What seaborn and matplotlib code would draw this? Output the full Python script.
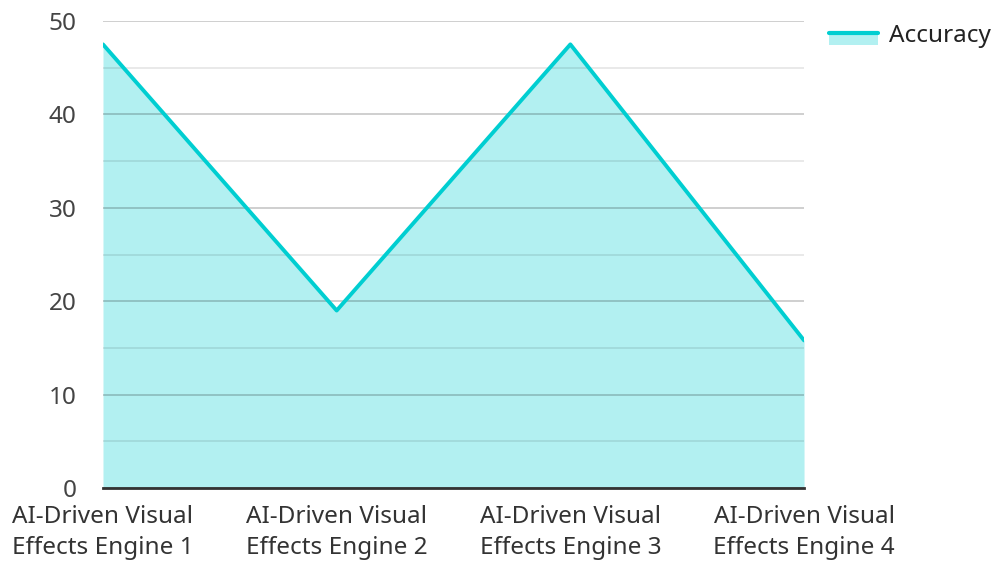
import matplotlib
matplotlib.use("Agg")
import matplotlib.pyplot as plt
import seaborn as sns
import pandas as pd
from matplotlib.legend_handler import HandlerBase
from matplotlib.patches import Rectangle
from matplotlib.lines import Line2D
from matplotlib.ticker import MultipleLocator

engines = ["AI-Driven Visual\nEffects Engine 1", "AI-Driven Visual\nEffects Engine 2",
           "AI-Driven Visual\nEffects Engine 3", "AI-Driven Visual\nEffects Engine 4"]
accuracy = [47.5, 19, 47.5, 15.8]

line_col = "#00CED1"

df = pd.DataFrame({"Engine": engines, "Accuracy": accuracy})

sns.set_style("white")
plt.rcParams["font.family"] = ["Noto Sans", "DejaVu Sans"]

fig = plt.figure(figsize=(9.94, 5.62), dpi=100)
ax = fig.add_axes([0.1036, 0.1317, 0.7053, 0.8309])

pos = list(range(len(engines)))
ax.fill_between(pos, accuracy, 0, color=line_col, alpha=0.3, linewidth=0, zorder=1)
sns.lineplot(data=df, x="Engine", y="Accuracy", color=line_col, linewidth=2.8, ax=ax,
             sort=False, zorder=3)

ax.set_xlim(0, 3)
ax.set_ylim(0, 50)
ax.yaxis.set_major_locator(MultipleLocator(10))
ax.yaxis.set_minor_locator(MultipleLocator(5))
ax.grid(which="major", axis="y", color="#000000", alpha=0.22, linewidth=1.2, zorder=2)
ax.grid(which="minor", axis="y", color="#000000", alpha=0.1, linewidth=1.2, zorder=2)
ax.set_axisbelow(False)
ax.grid(False, axis="x")

for s in ["left", "right", "top"]:
    ax.spines[s].set_visible(False)
ax.spines["bottom"].set_color("#333333")
ax.spines["bottom"].set_linewidth(2)
ax.spines["bottom"].set_zorder(4)

ax.set_xlabel("")
ax.set_ylabel("")
ax.tick_params(axis="y", which="both", length=0, pad=19, labelsize=17.5, labelcolor="#444444")
ax.tick_params(axis="x", length=0, pad=12, labelsize=17.5, labelcolor="#333333")
for lab in ax.get_xticklabels():
    lab.set_linespacing(1.4)


class AreaHandler(HandlerBase):
    def create_artists(self, legend, orig, xd, yd, w, h, fontsize, trans):
        bottom = yd - 2.2
        top = bottom + 8.6
        r = Rectangle((xd, bottom), w, top - bottom, facecolor=line_col, alpha=0.3,
                      edgecolor="none", transform=trans)
        l = Line2D([xd, xd + w], [top, top], color=line_col,
                   linewidth=3, transform=trans)
        return [r, l]


proxy = Rectangle((0, 0), 1, 1)
fig.legend([proxy], ["Accuracy"], handler_map={Rectangle: AreaHandler()},
           loc="upper left", bbox_to_anchor=(0.834, 0.958), frameon=False,
           fontsize=17.5, handlelength=2.0, handleheight=0.7, handletextpad=0.45,
           labelcolor="#222222", borderaxespad=0, borderpad=0)

fig.savefig("out.png", dpi=100)
